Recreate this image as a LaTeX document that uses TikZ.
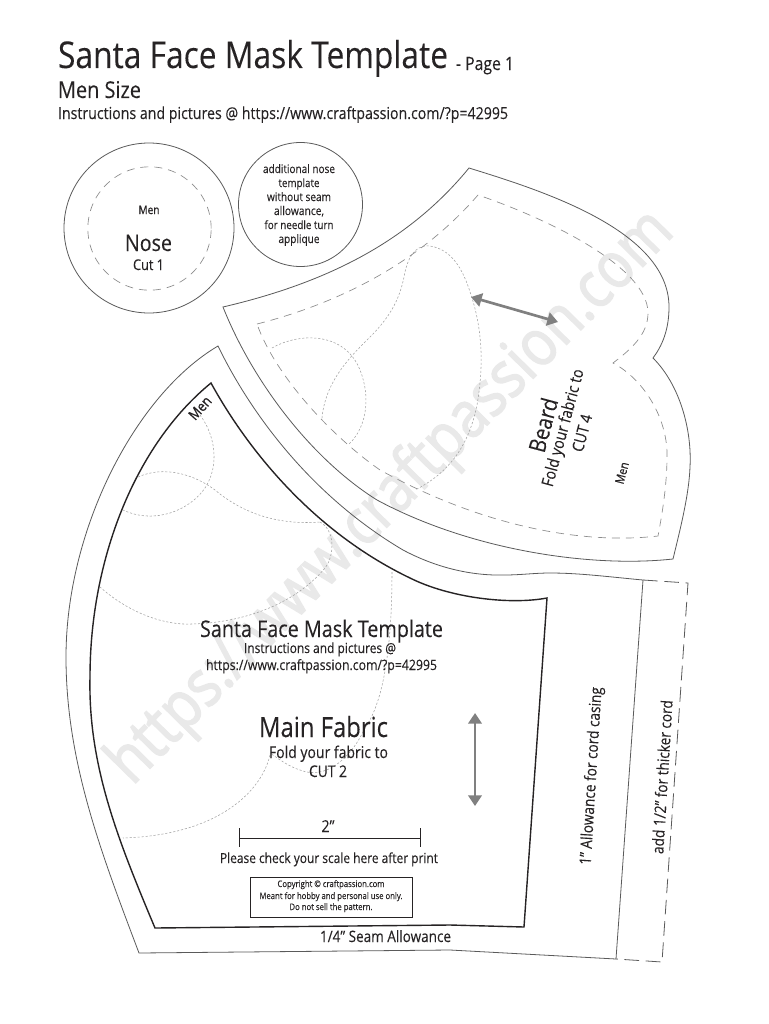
\documentclass[tikz,border=0pt]{standalone}
\usepackage{fontspec}
\usepackage{graphicx}
\setmainfont[FakeStretch=0.86,FakeBold=0.08]{Open Sans}
\newfontfamily\wmfont[FakeStretch=0.86,FakeBold=2]{Open Sans}
\newfontfamily\menfont[FakeStretch=0.86,FakeBold=0.8]{Open Sans}
\definecolor{ink}{HTML}{262324}
\definecolor{cutline}{HTML}{5A5A5A}
\definecolor{seamgray}{HTML}{8C8C8C}
\definecolor{dotgray}{HTML}{A0A0A0}
\definecolor{arrowgray}{HTML}{808080}
\definecolor{wmark}{HTML}{E9E9E9}
\newcommand{\fw}[2]{\resizebox{#1\dimexpr0.75pt\relax}{!}{#2}}
\usetikzlibrary{arrows.meta}
\tikzset{
  cutedge/.style={draw=cutline,line width=0.6pt,line join=miter},
  mainedge/.style={draw=ink,line width=1.05pt,line join=miter},
  seam/.style={draw=seamgray,line width=0.5pt,dash pattern=on 6pt off 4.5pt},
  longdash/.style={draw=cutline,line width=0.6pt,dash pattern=on 11pt off 5pt},
  guide/.style={draw=dotgray,line width=0.4pt,dash pattern=on 1.6pt off 1.4pt},
  grain/.style={draw=arrowgray,line width=2pt,{Triangle[length=8pt,width=10pt]}-{Triangle[length=8pt,width=10pt]}},
  lbl/.style={text=ink,inner sep=0pt,outer sep=0pt},
  lw/.style={lbl,anchor=base west},
  lc/.style={lbl,anchor=base},
}
\begin{document}
\begin{tikzpicture}[x=0.75pt,y=-0.75pt]
\useasboundingbox (0,0) rectangle (768,1024);
\fill[white] (0,0) rectangle (768,1024);

% watermark
\node[inner sep=0pt,text=wmark,rotate=45.5] (wm) at (392,498) {\fw{775}{\wmfont https://www.craftpassion.com}};

% header
\node[lw] (title) at (58,68) {\fw{390}{Santa Face Mask Template}};
\node[lw] (page) at (456,70) {\fw{58}{- Page 1}};
\node[lw] (size) at (58,98) {\fw{83}{Men Size}};
\node[lw] (instr) at (58,119) {\fw{450}{Instructions and pictures @ https://www.craftpassion.com/?p=42995}};

% nose circles
\node[circle,cutedge,minimum size=127.5pt,inner sep=0pt,outer sep=0pt] (nosecut) at (149,228) {};
\node[circle,seam,minimum size=92.5pt,inner sep=0pt] (noseseam) at (149.5,228.5) {};
\node[lc] (noseMen) at (149,214) {\fw{21}{\menfont Men}};
\node[lc] (noseT) at (148.5,251) {\fw{47}{Nose}};
\node[lc] (noseC) at (148.5,270) {\fw{31}{Cut 1}};
\node[circle,cutedge,minimum size=93pt,inner sep=0pt] (nose2) at (300.5,204.5) {};
\node[lc] (n2a) at (299,173) {\fw{72}{additional nose}};
\node[lc] (n2b) at (299,187) {\fw{41}{template}};
\node[lc] (n2c) at (299,201) {\fw{64}{without seam}};
\node[lc] (n2d) at (299,215) {\fw{50}{allowance,}};
\node[lc] (n2e) at (299,229) {\fw{69}{for needle turn}};
\node[lc] (n2f) at (299,243) {\fw{41}{applique}};

% beard outer
\draw[cutedge] (223,307) .. controls (330,282) and (410,240) .. (469,168)
  .. controls (540,190) and (669,230) .. (669,307)
  .. controls (669,330) and (662,346) .. (653,358)
  .. controls (680,385) and (692,430) .. (690,467)
  .. controls (689,495) and (680,530) .. (673,559)
  .. controls (590,568) and (470,550) .. (377,500)
  .. controls (310,458) and (252,380) .. (223,307) -- cycle;
% beard seam
\draw[seam] (257,324) .. controls (340,303) and (420,262) .. (478,195)
  .. controls (540,216) and (648,265) .. (648,313)
  .. controls (648,335) and (630,350) .. (613,363)
  .. controls (645,380) and (668,420) .. (667,457)
  .. controls (667,485) and (662,515) .. (658,536)
  .. controls (580,545) and (480,525) .. (380,470)
  .. controls (330,435) and (275,375) .. (257,324) -- cycle;
% beard guides
\draw[guide] (272,348) .. controls (300,332) and (345,332) .. (360,370)
  .. controls (372,400) and (365,430) .. (348,445);
\draw[guide] (322,418) .. controls (325,385) and (345,362) .. (365,342)
  .. controls (390,318) and (400,300) .. (405,272)
  .. controls (410,250) and (420,245) .. (430,246)
  .. controls (455,250) and (465,275) .. (472,298)
  .. controls (482,330) and (484,365) .. (477,405)
  .. controls (468,450) and (445,475) .. (415,490);

% main outer
\draw[cutedge] (218,346) .. controls (135,395) and (66,530) .. (66,657)
  .. controls (66,760) and (100,850) .. (139,953)
  -- (450,950) -- (616,959) -- (643,580)
  .. controls (610,577) and (580,573) .. (550,573)
  .. controls (535,573) and (520,575) .. (505,575)
  .. controls (470,576) and (435,567) .. (403,550)
  .. controls (310,495) and (250,412) .. (218,346) -- cycle;
\draw[longdash] (643,580) -- (688,583) -- (662,962) -- (616,959);
% main stitch line
\draw[mainedge] (211,383) .. controls (135,445) and (90,560) .. (90,677)
  .. controls (88,765) and (118,840) .. (155,928)
  -- (450,925) -- (524,927) -- (547,598)
  .. controls (510,605) and (450,598) .. (410,578)
  .. controls (310,530) and (245,445) .. (211,383) -- cycle;
% main guides
\draw[guide] (200,415) .. controls (215,435) and (220,465) .. (205,488)
  .. controls (190,510) and (155,525) .. (123,510);
\draw[guide] (138,477) .. controls (165,465) and (195,475) .. (215,490)
  .. controls (245,515) and (280,525) .. (320,522);
\draw[guide] (320,522) .. controls (335,530) and (335,555) .. (325,568)
  .. controls (290,610) and (230,625) .. (183,624)
  .. controls (150,622) and (120,605) .. (100,587);
\draw[guide] (392,572) .. controls (392,640) and (385,700) .. (365,728)
  .. controls (350,760) and (325,780) .. (300,770)
  .. controls (290,767) and (280,760) .. (270,753);
\draw[guide] (270,755) .. controls (262,790) and (220,835) .. (123,838);

% grain arrows
\coordinate (ga1) at (471,297); \coordinate (ga2) at (558,322);
\draw[grain] (ga1) -- (ga2);
\coordinate (gb1) at (475,713); \coordinate (gb2) at (475,806);
\draw[grain] (gb1) -- (gb2);

% beard labels
\node[lbl,rotate=75] (bdT) at (543,425) {\fw{55}{Beard}};
\node[lbl,rotate=75] (bdF) at (564,428) {\fw{121}{Fold your fabric to}};
\node[lbl,rotate=75] (bdC) at (582,433) {\fw{38}{CUT 4}};
\node[lbl,rotate=75] (bdM) at (622,473) {\fw{22}{\menfont Men}};
\node[lbl,rotate=48] (mnM) at (200,408) {\fw{26}{\menfont Men}};

% main labels
\node[lc] (mT) at (321.5,637) {\fw{243}{Santa Face Mask Template}};
\node[lc] (mI) at (320,653) {\fw{152}{Instructions and pictures @}};
\node[lc] (mU) at (321.5,670) {\fw{231}{https://www.craftpassion.com/?p=42995}};
\node[lc] (mF) at (323.5,737) {\fw{129}{Main Fabric}};
\node[lc] (mO) at (328.5,758) {\fw{119}{Fold your fabric to}};
\node[lc] (mC) at (328,777) {\fw{38}{CUT 2}};
\node[lc] (sc) at (328,832) {\fw{13}{2”}};
\coordinate (s1) at (239.5,838); \coordinate (s2) at (420,838);
\draw[ink,line width=0.7pt] (s1) -- (s2);
\draw[ink,line width=0.7pt] (239.5,828) -- (239.5,847);
\draw[ink,line width=0.7pt] (420,828) -- (420,847);
\node[lc] (sp) at (329,863) {\fw{218}{Please check your scale here after print}};
\node[draw=ink,line width=0.6pt,minimum width=121.5pt,minimum height=30pt,inner sep=0pt] (cbox) at (331,897) {};
\node[lc] (c1) at (331,887) {\fw{107}{Copyright © craftpassion.com}};
\node[lc] (c2) at (331,899) {\fw{143}{Meant for hobby and personal use only.}};
\node[lc] (c3) at (331,910) {\fw{83}{Do not sell the pattern.}};
\node[lc] (sa) at (385.5,942) {\fw{131}{1/4” Seam Allowance}};

% side labels
\node[lbl,rotate=86.5] (cord) at (592,776) {\fw{178}{1” Allowance for cord casing}};
\node[lbl,rotate=86.5] (thick) at (662,777) {\fw{154}{add 1/2” for thicker cord}};
\end{tikzpicture}
\end{document}
